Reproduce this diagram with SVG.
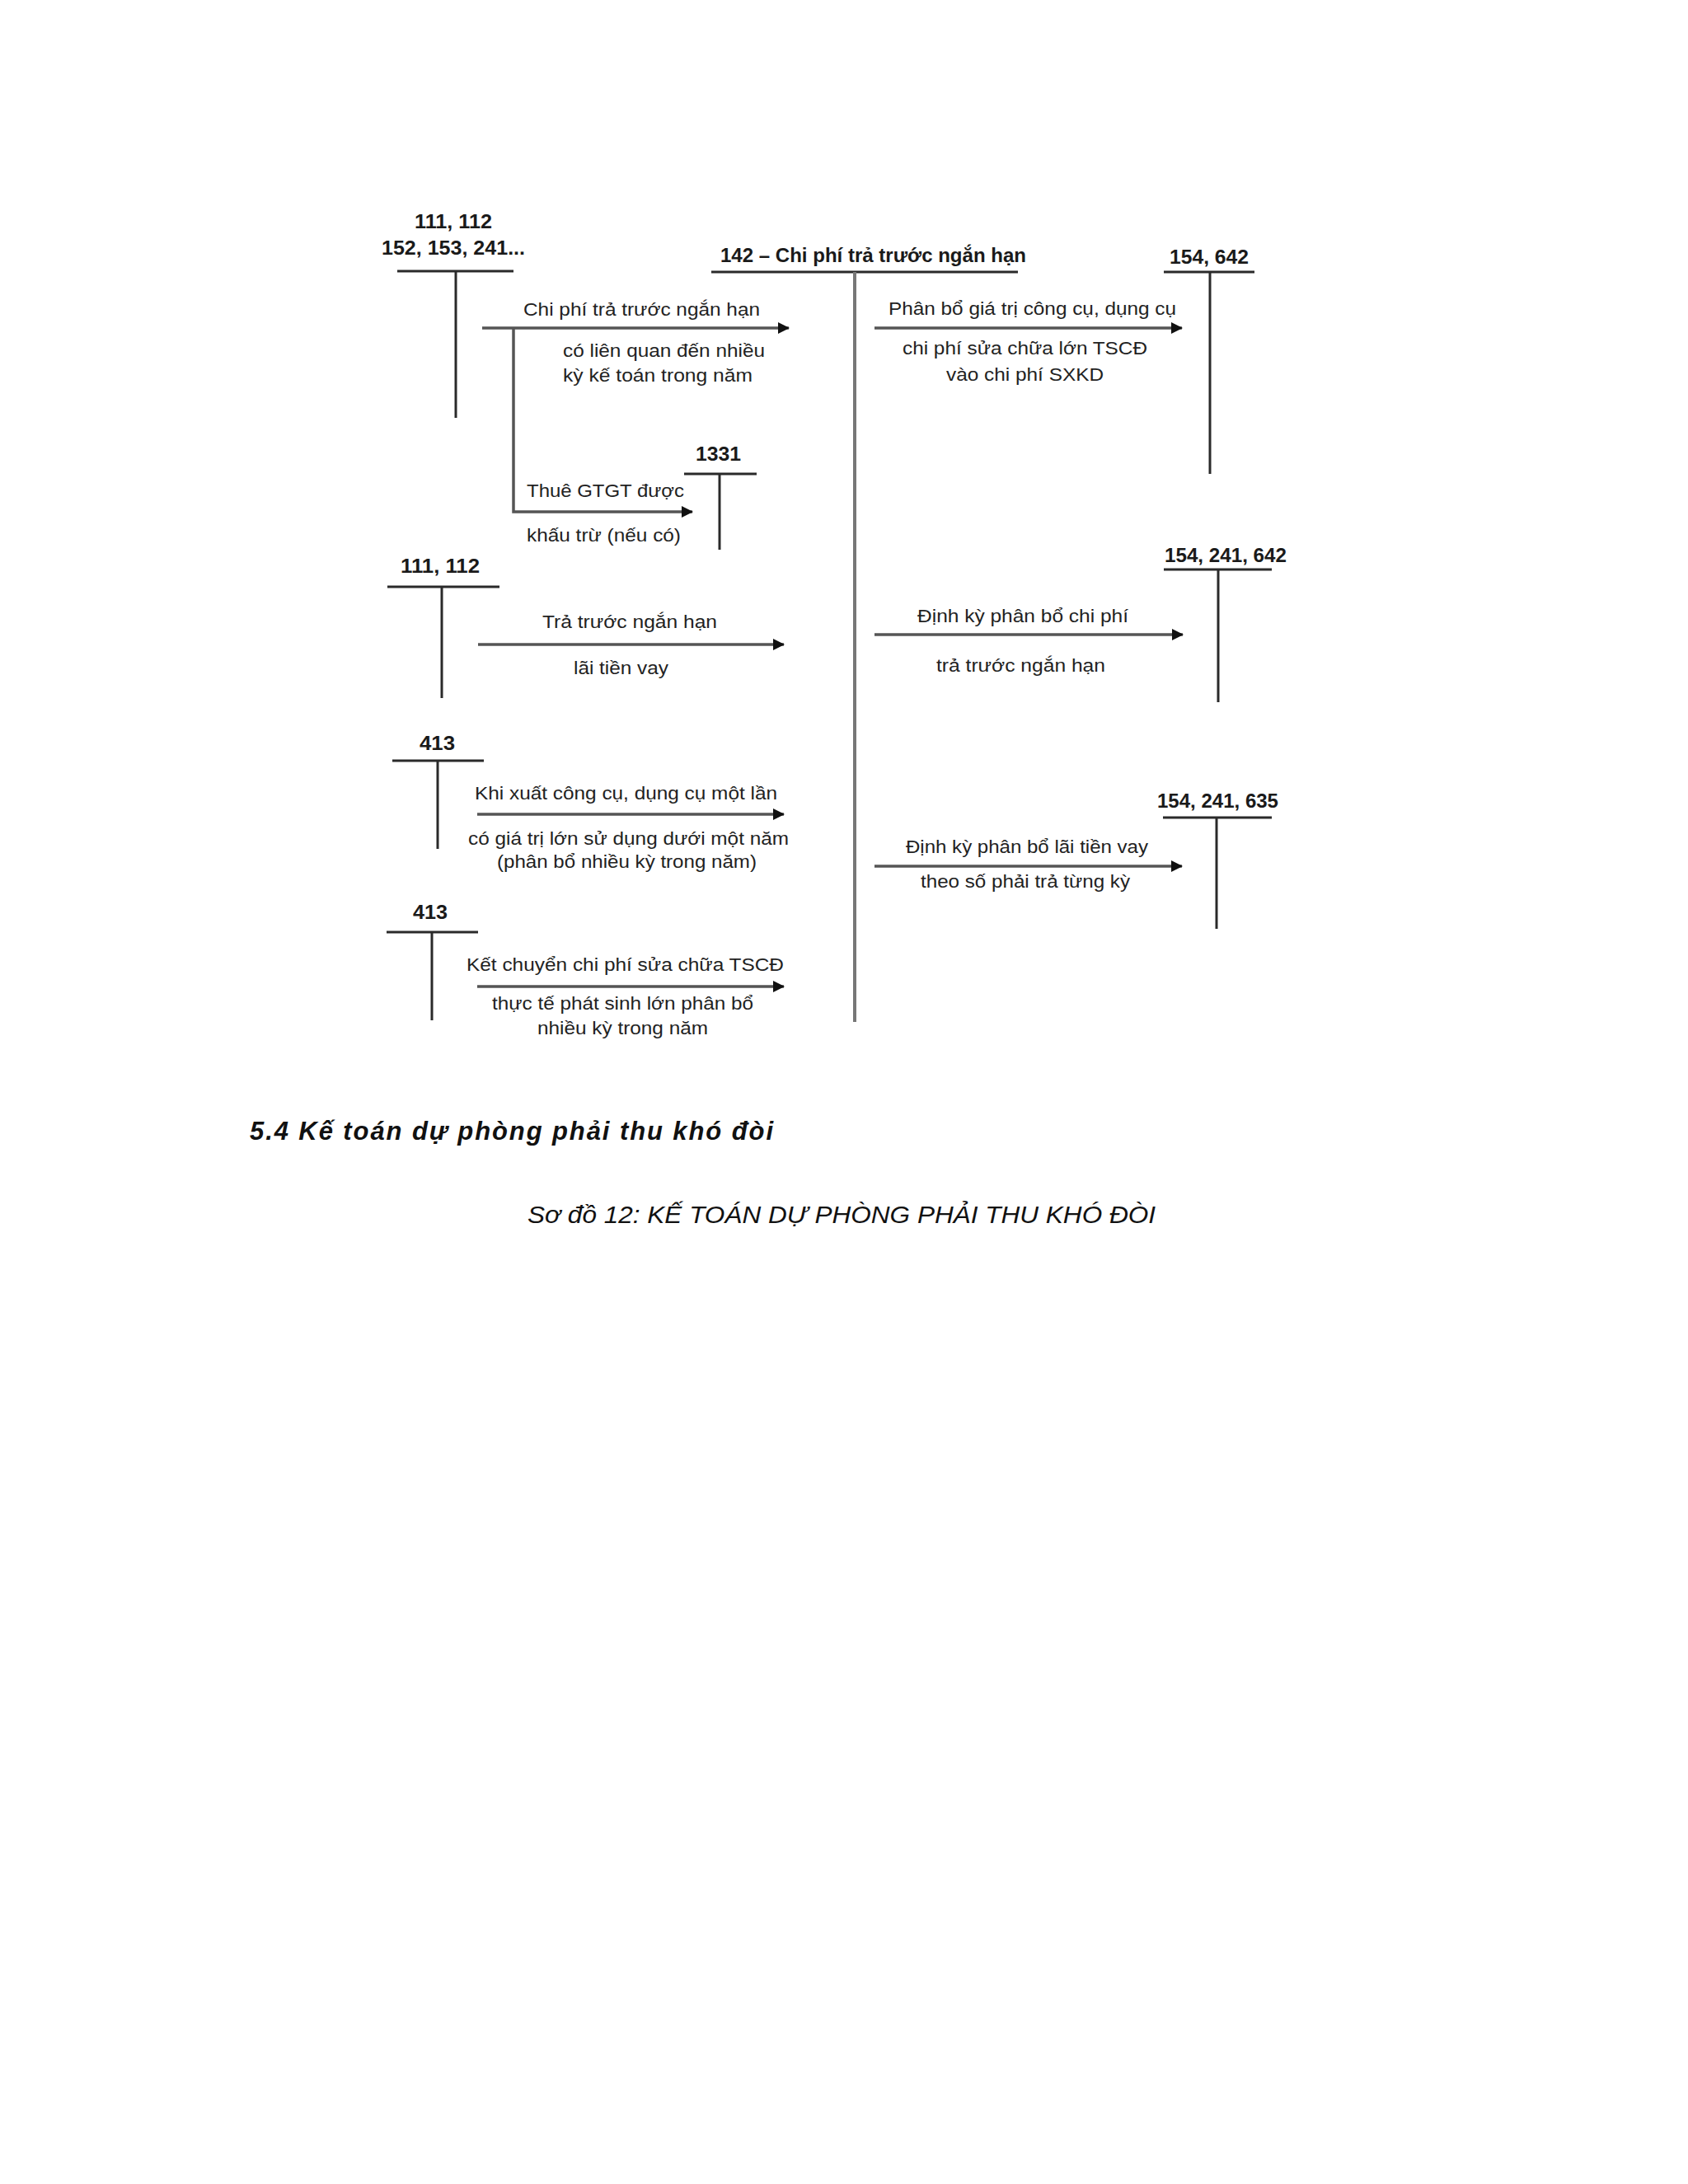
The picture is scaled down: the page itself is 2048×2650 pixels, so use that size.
<svg xmlns="http://www.w3.org/2000/svg" width="2048" height="2650" viewBox="0 0 2048 2650">
<style>
.acc{font-family:"Liberation Sans",Arial,sans-serif;font-weight:bold;font-size:24px;fill:#1a1a1a}
.lbl{font-family:"Liberation Sans",Arial,sans-serif;font-size:22px;fill:#222}
.tl{stroke:#2a2a2a;stroke-width:3;fill:none}
.arr{stroke:#555;stroke-width:3.5;fill:none;marker-end:url(#ah)}
.head{font-family:"Liberation Sans",Arial,sans-serif;font-weight:bold;font-style:italic;font-size:31px;fill:#111}
.cap{font-family:"Liberation Sans",Arial,sans-serif;font-style:italic;font-size:30px;fill:#111}
</style>
<defs>
<marker id="ah" viewBox="0 0 14 14" refX="13" refY="7" markerWidth="14" markerHeight="14" markerUnits="userSpaceOnUse" orient="auto">
<path d="M0,0 L14,7 L0,14 Z" fill="#111"/>
</marker>
</defs>
<rect width="2048" height="2650" fill="#fff"/>

<g id="acc-111-152">
<text class="acc" x="503" y="277" textLength="94" lengthAdjust="spacingAndGlyphs">111, 112</text>
<text class="acc" x="463" y="309" textLength="174" lengthAdjust="spacingAndGlyphs">152, 153, 241...</text>
<line class="tl" x1="482" y1="329" x2="623" y2="329"/>
<line class="tl" x1="553" y1="329" x2="553" y2="507"/>
</g>

<g id="acc-142">
<text class="acc" x="874" y="318" textLength="371" lengthAdjust="spacingAndGlyphs">142 – Chi phí trả trước ngắn hạn</text>
<line class="tl" x1="863" y1="330" x2="1235" y2="330"/>
<line x1="1037" y1="330" x2="1037" y2="1240" stroke="#777" stroke-width="4"/>
</g>

<g id="acc-154-642">
<text class="acc" x="1419" y="320" textLength="96" lengthAdjust="spacingAndGlyphs">154, 642</text>
<line class="tl" x1="1412" y1="330" x2="1522" y2="330"/>
<line class="tl" x1="1468" y1="330" x2="1468" y2="575"/>
</g>

<g id="acc-1331">
<text class="acc" x="844" y="559" textLength="55" lengthAdjust="spacingAndGlyphs">1331</text>
<line class="tl" x1="830" y1="575" x2="918" y2="575"/>
<line class="tl" x1="873" y1="575" x2="873" y2="667"/>
</g>

<g id="acc-111-112">
<text class="acc" x="486" y="695" textLength="96" lengthAdjust="spacingAndGlyphs">111, 112</text>
<line class="tl" x1="470" y1="712" x2="606" y2="712"/>
<line class="tl" x1="536" y1="712" x2="536" y2="847"/>
</g>

<g id="acc-154-241-642">
<text class="acc" x="1413" y="682" textLength="148" lengthAdjust="spacingAndGlyphs">154, 241, 642</text>
<line class="tl" x1="1412" y1="691" x2="1543" y2="691"/>
<line class="tl" x1="1478" y1="691" x2="1478" y2="852"/>
</g>

<g id="acc-413-a">
<text class="acc" x="509" y="910" textLength="43" lengthAdjust="spacingAndGlyphs">413</text>
<line class="tl" x1="476" y1="923" x2="587" y2="923"/>
<line class="tl" x1="531" y1="923" x2="531" y2="1030"/>
</g>

<g id="acc-154-241-635">
<text class="acc" x="1404" y="980" textLength="147" lengthAdjust="spacingAndGlyphs">154, 241, 635</text>
<line class="tl" x1="1411" y1="992" x2="1543" y2="992"/>
<line class="tl" x1="1476" y1="992" x2="1476" y2="1127"/>
</g>

<g id="acc-413-b">
<text class="acc" x="501" y="1115" textLength="42" lengthAdjust="spacingAndGlyphs">413</text>
<line class="tl" x1="469" y1="1131" x2="580" y2="1131"/>
<line class="tl" x1="524" y1="1131" x2="524" y2="1238"/>
</g>

<g id="connectors">
<line class="arr" x1="585" y1="398" x2="957" y2="398"/>
<polyline class="arr" points="623,398 623,621 840,621"/>
<line class="arr" x1="580" y1="782" x2="951" y2="782"/>
<line class="arr" x1="579" y1="988" x2="951" y2="988"/>
<line class="arr" x1="579" y1="1197" x2="951" y2="1197"/>
<line class="arr" x1="1061" y1="398" x2="1434" y2="398"/>
<line class="arr" x1="1061" y1="770" x2="1435" y2="770"/>
<line class="arr" x1="1061" y1="1051" x2="1434" y2="1051"/>
</g>

<g id="labels">
<text class="lbl" x="635" y="383" textLength="287" lengthAdjust="spacingAndGlyphs">Chi phí trả trước ngắn hạn</text>
<text class="lbl" x="683" y="433" textLength="245" lengthAdjust="spacingAndGlyphs">có liên quan đến nhiều</text>
<text class="lbl" x="683" y="463" textLength="230" lengthAdjust="spacingAndGlyphs">kỳ kế toán trong năm</text>
<text class="lbl" x="639" y="603" textLength="191" lengthAdjust="spacingAndGlyphs">Thuê GTGT được</text>
<text class="lbl" x="639" y="657" textLength="187" lengthAdjust="spacingAndGlyphs">khấu trừ (nếu có)</text>
<text class="lbl" x="658" y="762" textLength="212" lengthAdjust="spacingAndGlyphs">Trả trước ngắn hạn</text>
<text class="lbl" x="696" y="818" textLength="115" lengthAdjust="spacingAndGlyphs">lãi tiền vay</text>
<text class="lbl" x="576" y="970" textLength="367" lengthAdjust="spacingAndGlyphs">Khi xuất công cụ, dụng cụ một lần</text>
<text class="lbl" x="568" y="1025" textLength="389" lengthAdjust="spacingAndGlyphs">có giá trị lớn sử dụng dưới một năm</text>
<text class="lbl" x="603" y="1053" textLength="315" lengthAdjust="spacingAndGlyphs">(phân bổ nhiều kỳ trong năm)</text>
<text class="lbl" x="566" y="1178" textLength="385" lengthAdjust="spacingAndGlyphs">Kết chuyển chi phí sửa chữa TSCĐ</text>
<text class="lbl" x="597" y="1225" textLength="317" lengthAdjust="spacingAndGlyphs">thực tế phát sinh lớn phân bổ</text>
<text class="lbl" x="652" y="1255" textLength="207" lengthAdjust="spacingAndGlyphs">nhiều kỳ trong năm</text>
<text class="lbl" x="1078" y="382" textLength="349" lengthAdjust="spacingAndGlyphs">Phân bổ giá trị công cụ, dụng cụ</text>
<text class="lbl" x="1095" y="430" textLength="297" lengthAdjust="spacingAndGlyphs">chi phí sửa chữa lớn TSCĐ</text>
<text class="lbl" x="1148" y="462" textLength="191" lengthAdjust="spacingAndGlyphs">vào chi phí SXKD</text>
<text class="lbl" x="1113" y="755" textLength="256" lengthAdjust="spacingAndGlyphs">Định kỳ phân bổ chi phí</text>
<text class="lbl" x="1136" y="815" textLength="205" lengthAdjust="spacingAndGlyphs">trả trước ngắn hạn</text>
<text class="lbl" x="1099" y="1035" textLength="294" lengthAdjust="spacingAndGlyphs">Định kỳ phân bổ lãi tiền vay</text>
<text class="lbl" x="1117" y="1077" textLength="254" lengthAdjust="spacingAndGlyphs">theo số phải trả từng kỳ</text>
</g>

<text class="head" x="303" y="1383" textLength="635" lengthAdjust="spacing">5.4 Kế toán dự phòng phải thu khó đòi</text>
<text class="cap" x="640" y="1484" textLength="762" lengthAdjust="spacingAndGlyphs">Sơ đồ 12: KẾ TOÁN DỰ PHÒNG PHẢI THU KHÓ ĐÒI</text>
</svg>
